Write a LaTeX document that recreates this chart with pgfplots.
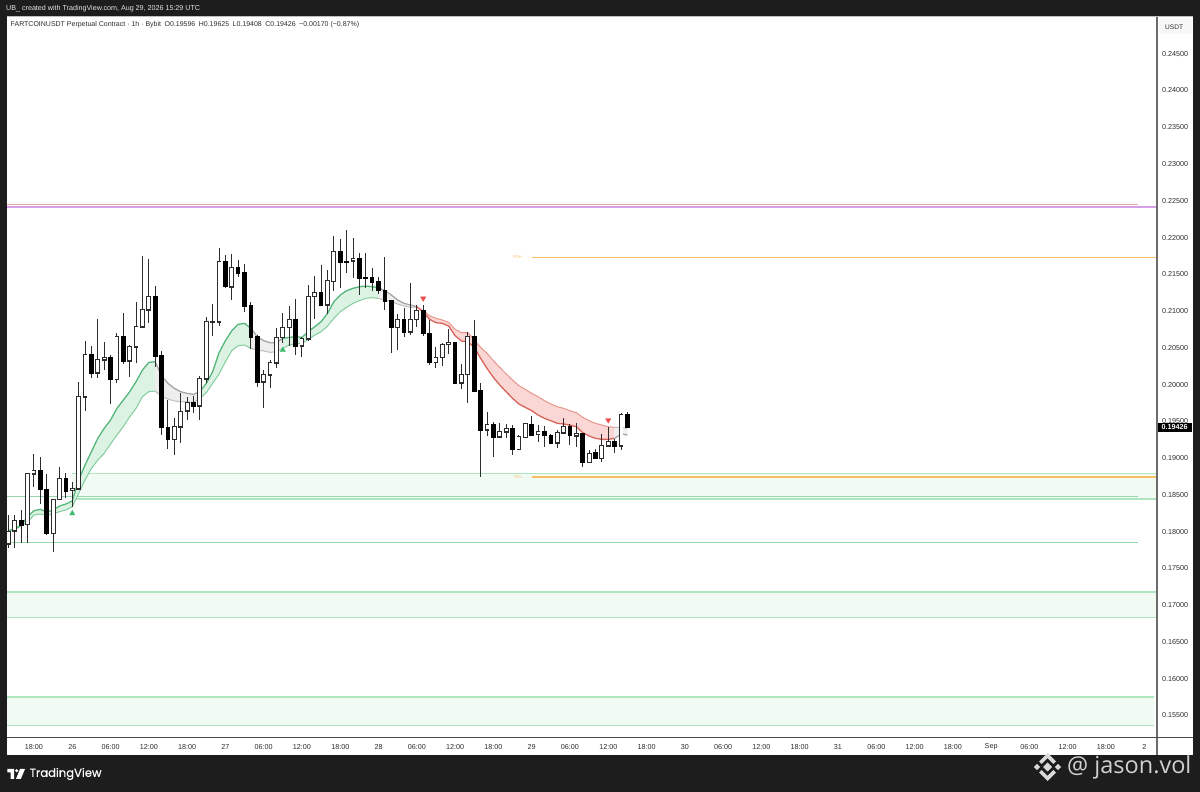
\documentclass[border=0pt]{standalone}
\usepackage{fontspec}
\setmainfont{Liberation Sans}
\newfontfamily\wmfont{Open Sans}
\newfontfamily\tvfont[FakeBold=0.4]{Poppins}
\usepackage{pgfplots}
\usepackage{pgfplotstable}
\pgfplotsset{compat=1.18}

\definecolor{frame}{RGB}{29,29,29}
\definecolor{ink}{RGB}{45,45,45}
\definecolor{zonefill}{RGB}{241,251,244}
\definecolor{zoneline}{RGB}{175,230,192}
\definecolor{levelgreen}{RGB}{150,215,170}
\definecolor{purpleline}{RGB}{214,160,232}
\definecolor{pinkline}{RGB}{228,170,160}
\definecolor{orangeline}{RGB}{250,190,100}
\definecolor{gfast}{RGB}{85,183,122}
\definecolor{gslow}{RGB}{130,205,155}
\definecolor{gfill}{RGB}{220,243,228}
\definecolor{nfast}{RGB}{165,165,165}
\definecolor{nslow}{RGB}{190,190,190}
\definecolor{nfill}{RGB}{238,238,238}
\definecolor{rfast}{RGB}{217,100,90}
\definecolor{rslow}{RGB}{232,150,140}
\definecolor{rfill}{RGB}{250,215,212}
\definecolor{triGreen}{RGB}{60,190,110}
\definecolor{triRed}{RGB}{235,75,70}

% hour 0 = Aug 26 00:00
\pgfplotstableread{
h o hi lo c
-10 0.17832 0.18226 0.17773 0.18000
-9 0.18009 0.18226 0.17773 0.18149
-7 0.18099 0.18802 0.17841 0.18793
-6 0.18784 0.19056 0.18612 0.18829
-3 0.17977 0.18439 0.17719 0.18439
-2 0.18439 0.18874 0.18430 0.18725
0 0.18566 0.18680 0.18330 0.18593
1 0.18584 0.20039 0.18566 0.19845
2 0.19836 0.20597 0.19645 0.20407
4 0.20162 0.20896 0.20085 0.20343
5 0.20339 0.20583 0.20198 0.20370
7 0.20071 0.20706 0.20017 0.20656
9 0.20325 0.20538 0.20098 0.20524
10 0.20515 0.21123 0.20289 0.20796
11 0.20787 0.21748 0.20778 0.21019
12 0.21019 0.21712 0.20833 0.21200
16 0.19255 0.19545 0.19047 0.19427
17 0.19427 0.19890 0.19210 0.19641
18 0.19641 0.19836 0.19518 0.19763
20 0.19709 0.20117 0.19518 0.20080
21 0.20080 0.20923 0.20026 0.20855
22 0.20851 0.21096 0.20660 0.20864
23 0.20855 0.21853 0.20796 0.21680
25 0.21331 0.21771 0.21150 0.21594
30 0.20039 0.20198 0.19686 0.20135
31 0.20135 0.20334 0.19949 0.20298
32 0.20298 0.20765 0.20221 0.20642
33 0.20642 0.20978 0.20561 0.20778
34 0.20778 0.21068 0.20524 0.20887
36 0.20529 0.20651 0.20379 0.20624
37 0.20624 0.21354 0.20597 0.21204
38 0.21200 0.21476 0.20896 0.21254
40 0.21082 0.21558 0.20955 0.21413
41 0.21404 0.22020 0.21277 0.21812
44 0.21680 0.21989 0.21445 0.21721
51 0.20778 0.20960 0.20470 0.20887
53 0.20719 0.21386 0.20674 0.20887
54 0.20887 0.21082 0.20778 0.21005
57 0.20302 0.20515 0.20221 0.20370
58 0.20370 0.20570 0.20252 0.20547
59 0.20547 0.20751 0.20416 0.20574
61 0.20026 0.20280 0.19935 0.20139
62 0.20139 0.20719 0.19754 0.20651
65 0.19382 0.19631 0.19301 0.19464
67 0.19291 0.19473 0.19282 0.19359
68 0.19359 0.19459 0.19269 0.19405
70 0.19119 0.19314 0.19110 0.19291
71 0.19282 0.19482 0.19278 0.19473
73 0.19323 0.19450 0.19223 0.19364
76 0.19210 0.19382 0.19133 0.19346
77 0.19346 0.19541 0.19337 0.19437
79 0.19301 0.19473 0.19155 0.19337
81 0.18942 0.19110 0.18929 0.19065
83 0.18997 0.19328 0.18951 0.19169
84 0.19164 0.19427 0.19155 0.19228
86 0.19164 0.19618 0.19110 0.19595
}\upcandles

\pgfplotstableread{
h o hi lo c
-8 0.18149 0.18294 0.17850 0.18090
-5 0.18829 0.19010 0.18376 0.18575
-4 0.18575 0.18784 0.17954 0.17977
-1 0.18725 0.18802 0.18453 0.18557
3 0.20407 0.20524 0.20085 0.20162
6 0.20366 0.20402 0.19736 0.20071
8 0.20651 0.20978 0.20280 0.20325
13 0.21200 0.21345 0.20243 0.20393
14 0.20393 0.20461 0.19314 0.19418
15 0.19418 0.19790 0.19119 0.19255
19 0.19763 0.19845 0.19609 0.19709
24 0.21680 0.21762 0.21309 0.21340
26 0.21590 0.21694 0.21467 0.21522
27 0.21522 0.21640 0.20991 0.21068
28 0.21073 0.21127 0.20479 0.20651
29 0.20651 0.20674 0.19971 0.20039
35 0.20887 0.21159 0.20402 0.20529
39 0.21254 0.21626 0.21068 0.21082
42 0.21812 0.21975 0.21309 0.21667
43 0.21676 0.22102 0.21522 0.21667
45 0.21721 0.21794 0.21218 0.21445
46 0.21458 0.21785 0.21309 0.21445
47 0.21458 0.21581 0.21277 0.21395
48 0.21404 0.21467 0.21232 0.21286
49 0.21286 0.21730 0.21014 0.21141
50 0.21141 0.21150 0.20434 0.20778
52 0.20887 0.21037 0.20642 0.20719
55 0.21005 0.21082 0.20660 0.20697
56 0.20697 0.20878 0.20266 0.20311
60 0.20574 0.20583 0.20017 0.20026
63 0.20651 0.20878 0.19917 0.19917
64 0.19926 0.20017 0.18748 0.19382
66 0.19464 0.19495 0.19010 0.19291
69 0.19405 0.19450 0.19042 0.19119
72 0.19464 0.19572 0.19310 0.19319
74 0.19359 0.19437 0.19155 0.19310
75 0.19314 0.19328 0.19201 0.19210
78 0.19437 0.19464 0.19178 0.19310
80 0.19337 0.19346 0.18874 0.18942
82 0.19074 0.19119 0.18988 0.18997
85 0.19228 0.19255 0.19065 0.19164
87 0.19596 0.19625 0.19408 0.19426
}\downcandles

\pgfplotstableread{
h fast slow
-10 0.18013 0.18013
-9 0.18040 0.18031
-8 0.18090 0.18077
-7 0.18204 0.18136
-6 0.18285 0.18226
-5 0.18303 0.18240
-4 0.18267 0.18222
-3 0.18294 0.18240
-2 0.18349 0.18272
-1 0.18376 0.18294
0 0.18417 0.18340
1 0.18702 0.18521
2 0.18906 0.18702
3 0.19088 0.18861
4 0.19269 0.18974
5 0.19405 0.19065
6 0.19518 0.19192
7 0.19677 0.19314
8 0.19790 0.19428
9 0.19903 0.19563
10 0.20039 0.19677
11 0.20198 0.19836
12 0.20302 0.19903
13 0.20311 0.19913
14 0.20117 0.19836
15 0.20017 0.19804
16 0.19949 0.19777
17 0.19903 0.19767
18 0.19881 0.19763
19 0.19867 0.19758
20 0.19903 0.19813
21 0.20017 0.19890
22 0.20175 0.20017
23 0.20434 0.20144
24 0.20597 0.20311
25 0.20733 0.20461
26 0.20819 0.20529
27 0.20833 0.20538
28 0.20765 0.20493
29 0.20651 0.20470
30 0.20597 0.20457
31 0.20570 0.20438
32 0.20570 0.20447
33 0.20629 0.20493
34 0.20642 0.20538
35 0.20651 0.20552
36 0.20642 0.20561
37 0.20719 0.20615
38 0.20787 0.20674
39 0.20855 0.20719
40 0.20969 0.20796
41 0.21127 0.20901
42 0.21218 0.20991
43 0.21277 0.21050
44 0.21309 0.21105
45 0.21331 0.21141
46 0.21340 0.21173
47 0.21331 0.21182
48 0.21318 0.21173
49 0.21277 0.21150
50 0.21218 0.21127
51 0.21150 0.21096
52 0.21105 0.21068
53 0.21082 0.21050
54 0.21059 0.21055
55 0.20987 0.21005
56 0.20887 0.20937
57 0.20842 0.20901
58 0.20833 0.20878
59 0.20796 0.20846
60 0.20665 0.20751
61 0.20592 0.20706
62 0.20583 0.20706
63 0.20506 0.20606
64 0.20357 0.20506
65 0.20221 0.20425
66 0.20098 0.20325
67 0.19994 0.20234
68 0.19903 0.20144
69 0.19813 0.20062
70 0.19736 0.19985
71 0.19690 0.19935
72 0.19645 0.19881
73 0.19586 0.19835
74 0.19541 0.19781
75 0.19509 0.19736
76 0.19473 0.19699
77 0.19464 0.19677
78 0.19450 0.19645
79 0.19427 0.19618
80 0.19346 0.19554
81 0.19301 0.19509
82 0.19269 0.19473
83 0.19255 0.19450
84 0.19255 0.19427
85 0.19269 0.19418
86 0.19328 0.19418
87 0.19314 0.19405
}\ema

% from, to, fast line, slow line
\newcommand{\emalines}[4]{
  \addplot[#4, line width=1pt, restrict x to domain=#1:#2] table[x=h, y=slow] {\ema};
  \addplot[#3, line width=1.3pt, restrict x to domain=#1:#2] table[x=h, y=fast] {\ema};
}
\pgfplotsset{
  candle/.style 2 args={draw=none, mark=none, error bars/.cd, y dir=both, y explicit,
    error mark=none, error bar style={draw=#1, solid, line width=#2}},
  zone/.style={draw=none, fill=zonefill},
  ribbon/.style={draw=none, fill=#1},
}

\begin{document}
\begin{tikzpicture}
\fill[frame] (0,0) rectangle (1200pt,792pt);
\fill[white] (6.5pt,37pt) rectangle (1193pt,776pt);

\begin{axis}[
  at={(7pt,54pt)}, anchor=south west,
  scale only axis, width=1150pt, height=722pt,
  xmin=-10.23, xmax=170,
  ymin=0.15194, ymax=0.250127,
  axis line style={draw=none},
  tick style={draw=none},
  major tick length=0pt,
  xtick={-6,0,6,...,168},
  xticklabels={18:00,26,06:00,12:00,18:00,27,06:00,12:00,18:00,28,06:00,12:00,18:00,29,06:00,12:00,18:00,30,06:00,12:00,18:00,31,06:00,12:00,18:00,Sep,06:00,12:00,18:00,2},
  x tick label style={font=\fontsize{7.2}{8}\selectfont, text=ink, anchor=center, yshift=-9pt},
  ytick={0.155,0.16,0.165,0.17,0.175,0.18,0.185,0.19,0.195,0.2,0.205,0.21,0.215,0.22,0.225,0.23,0.235,0.24,0.245},
  scaled y ticks=false,
  yticklabel pos=right,
  y tick label style={font=\fontsize{7.2}{8}\selectfont, text=ink, anchor=west, inner sep=0pt, xshift=5pt,
    /pgf/number format/fixed, /pgf/number format/fixed zerofill, /pgf/number format/precision=5,
    /pgf/number format/assume math mode=true},
]
% demand zones
\addplot[zone] coordinates {(0,0.18797) (170,0.18797) (170,0.18444) (0,0.18444)} --cycle;
\addplot[zoneline, line width=1.1pt] coordinates {(0,0.18797) (170,0.18797)};
\addplot[zoneline, line width=1.1pt] coordinates {(0,0.18444) (170,0.18444)};
\addplot[zone] coordinates {(-10.23,0.17179) (170,0.17179) (170,0.16832) (-10.23,0.16832)} --cycle;
\addplot[zoneline, line width=1.1pt] coordinates {(-10.23,0.17179) (170,0.17179)};
\addplot[zoneline, line width=1.1pt] coordinates {(-10.23,0.16832) (170,0.16832)};
\addplot[zone] coordinates {(-10.23,0.15751) (169.5,0.15751) (169.5,0.15370) (-10.23,0.15370)} --cycle;
\addplot[zoneline, line width=1.1pt] coordinates {(-10.23,0.15751) (169.5,0.15751)};
\addplot[zoneline, line width=1.1pt] coordinates {(-10.23,0.15370) (169.5,0.15370)};
% levels
\addplot[levelgreen, line width=1pt] coordinates {(-10.23,0.18475) (167,0.18475)};
\addplot[levelgreen, line width=1pt] coordinates {(-10.23,0.17850) (167,0.17850)};
\addplot[purpleline, line width=2.4pt] coordinates {(-10.23,0.22418) (170,0.22418)};
\addplot[pinkline, line width=0.9pt] coordinates {(-10.23,0.22449) (167,0.22449)};
\addplot[orangeline, line width=1.3pt] coordinates {(72,0.21728) (170,0.21728)};
\addplot[orangeline, line width=1.3pt] coordinates {(72,0.18743) (170,0.18743)};

% EMA ribbon fills: fast line out, slow line back
\addplot[ribbon=gfill] coordinates {(-10,0.18013) (-9,0.18040) (-8,0.18090) (-7,0.18204) (-6,0.18285) (-5,0.18303) (-4,0.18267) (-3,0.18294) (-2,0.18349) (-1,0.18376) (0,0.18417) (1,0.18702) (2,0.18906) (3,0.19088) (4,0.19269) (5,0.19405) (6,0.19518) (7,0.19677) (8,0.19790) (9,0.19903) (10,0.20039) (11,0.20198) (12,0.20302) (13,0.20311)
  (13,0.19913) (12,0.19903) (11,0.19836) (10,0.19677) (9,0.19563) (8,0.19428) (7,0.19314) (6,0.19192) (5,0.19065) (4,0.18974) (3,0.18861) (2,0.18702) (1,0.18521) (0,0.18340) (-1,0.18294) (-2,0.18272) (-3,0.18240) (-4,0.18222) (-5,0.18240) (-6,0.18226) (-7,0.18136) (-8,0.18077) (-9,0.18031) (-10,0.18013)} --cycle;
\addplot[ribbon=nfill] coordinates {(13,0.20311) (14,0.20117) (15,0.20017) (16,0.19949) (17,0.19903) (18,0.19881) (19,0.19867) (20,0.19903)
  (20,0.19813) (19,0.19758) (18,0.19763) (17,0.19767) (16,0.19777) (15,0.19804) (14,0.19836) (13,0.19913)} --cycle;
\addplot[ribbon=gfill] coordinates {(20,0.19903) (21,0.20017) (22,0.20175) (23,0.20434) (24,0.20597) (25,0.20733) (26,0.20819) (27,0.20833) (28,0.20765)
  (28,0.20493) (27,0.20538) (26,0.20529) (25,0.20461) (24,0.20311) (23,0.20144) (22,0.20017) (21,0.19890) (20,0.19813)} --cycle;
\addplot[ribbon=nfill] coordinates {(28,0.20765) (29,0.20651) (30,0.20597) (31,0.20570) (32,0.20570) (33,0.20629)
  (33,0.20493) (32,0.20447) (31,0.20438) (30,0.20457) (29,0.20470) (28,0.20493)} --cycle;
\addplot[ribbon=gfill] coordinates {(33,0.20629) (34,0.20642) (35,0.20651) (36,0.20642) (37,0.20719) (38,0.20787) (39,0.20855) (40,0.20969) (41,0.21127) (42,0.21218) (43,0.21277) (44,0.21309) (45,0.21331) (46,0.21340) (47,0.21331) (48,0.21318)
  (48,0.21173) (47,0.21182) (46,0.21173) (45,0.21141) (44,0.21105) (43,0.21050) (42,0.20991) (41,0.20901) (40,0.20796) (39,0.20719) (38,0.20674) (37,0.20615) (36,0.20561) (35,0.20552) (34,0.20538) (33,0.20493)} --cycle;
\addplot[ribbon=nfill] coordinates {(48,0.21318) (49,0.21277) (50,0.21218) (51,0.21150) (52,0.21105) (53,0.21082) (54,0.21059)
  (54,0.21055) (53,0.21050) (52,0.21068) (51,0.21096) (50,0.21127) (49,0.21150) (48,0.21173)} --cycle;
\addplot[ribbon=rfill] coordinates {(54,0.21059) (55,0.20987) (56,0.20887) (57,0.20842) (58,0.20833) (59,0.20796) (60,0.20665) (61,0.20592) (62,0.20583) (63,0.20506) (64,0.20357) (65,0.20221) (66,0.20098) (67,0.19994) (68,0.19903) (69,0.19813) (70,0.19736) (71,0.19690) (72,0.19645) (73,0.19586) (74,0.19541) (75,0.19509) (76,0.19473) (77,0.19464) (78,0.19450) (79,0.19427) (80,0.19346) (81,0.19301) (82,0.19269) (83,0.19255) (84,0.19255) (85,0.19269)
  (85,0.19418) (84,0.19427) (83,0.19450) (82,0.19473) (81,0.19509) (80,0.19554) (79,0.19618) (78,0.19645) (77,0.19677) (76,0.19699) (75,0.19736) (74,0.19781) (73,0.19835) (72,0.19881) (71,0.19935) (70,0.19985) (69,0.20062) (68,0.20144) (67,0.20234) (66,0.20325) (65,0.20425) (64,0.20506) (63,0.20606) (62,0.20706) (61,0.20706) (60,0.20751) (59,0.20846) (58,0.20878) (57,0.20901) (56,0.20937) (55,0.21005) (54,0.21055)} --cycle;
\addplot[ribbon=nfill] coordinates {(85,0.19269) (86,0.19328) (87,0.19314) (87,0.19405) (86,0.19418) (85,0.19418)} --cycle;

% EMA ribbon lines
\emalines{-10}{13}{gfast}{gslow}
\emalines{13}{20}{nfast}{nslow}
\emalines{20}{28}{gfast}{gslow}
\emalines{28}{33}{nfast}{nslow}
\emalines{33}{48}{gfast}{gslow}
\emalines{48}{54}{nfast}{nslow}
\emalines{54}{85}{rfast}{rslow}
\emalines{85}{87}{nfast}{nslow}

% wicks
\addplot[candle={ink}{1pt}]
  table[x=h, y=c, y error plus expr=\thisrow{hi}-\thisrow{c}, y error minus expr=\thisrow{c}-\thisrow{lo}] {\upcandles};
\addplot[candle={ink}{1pt}]
  table[x=h, y=c, y error plus expr=\thisrow{hi}-\thisrow{c}, y error minus expr=\thisrow{c}-\thisrow{lo}] {\downcandles};
% down bodies
\addplot[candle={black}{4.6pt}]
  table[x=h, y=c, y error plus expr=\thisrow{o}-\thisrow{c}+0.00004, y error minus expr=0.00004] {\downcandles};
% up bodies: dark box, then white inside it
\addplot[candle={ink}{4.8pt}]
  table[x=h, y=o, y error plus expr=\thisrow{c}-\thisrow{o}+0.00004, y error minus expr=0.00004] {\upcandles};
\addplot[candle={white}{3pt}]
  table[x=h, y expr=\thisrow{o}+0.00009, y error plus expr={max(0,\thisrow{c}-\thisrow{o}-0.00018)}, y error minus expr=0] {\upcandles};

% signals
\addplot[only marks, mark=triangle*, mark size=3pt, triGreen, mark options={draw=none}] coordinates {(0,0.18249) (33,0.20470)};
\addplot[only marks, mark=triangle*, mark size=3pt, triRed, mark options={draw=none, rotate=180}] coordinates {(55,0.21173) (84,0.19518)};

\node[font=\fontsize{4}{4}\selectfont, text=orangeline, anchor=east] at (axis cs:71,0.21728) {PDH};
\node[font=\fontsize{4}{4}\selectfont, text=orangeline, anchor=east] at (axis cs:71,0.18743) {PDL};
\end{axis}

% panel lines
\draw[gray!85!black, line width=1.3pt] (1157pt,37pt) -- (1157pt,776pt);
\draw[black!70, line width=1pt] (6.5pt,54pt) -- (1193pt,54pt);
\draw[gray!50, line width=0.7pt] (6.5pt,776pt) -- (1193pt,776pt);

% last price tag
\node[fill=black, text=white, font=\fontsize{7.2}{8}\selectfont\bfseries, anchor=west, inner sep=0pt,
  minimum width=34pt, minimum height=9.6pt, align=center] at (1157.5pt,364.5pt) {0.19426};

% USDT tab
\fill[black!3, rounded corners=1pt] (1159pt,758pt) rectangle (1192pt,773pt);
\node[font=\fontsize{6.6}{8}\selectfont, text=ink, anchor=west, inner sep=0pt] at (1165pt,765pt) {USDT};

% header texts
\node[font=\fontsize{7.15}{8}\selectfont, text=white!90!black, anchor=west, inner sep=0pt] at (6pt,783.5pt)
  {UB\_ created with TradingView.com, Aug 29, 2026 15:29 UTC};
\node[font=\fontsize{7}{8}\selectfont, text=ink, anchor=west, inner sep=0pt] at (10.5pt,767.5pt)
  {FARTCOINUSDT Perpetual Contract · 1h · Bybit\enspace O0.19596\enspace H0.19625\enspace L0.19408\enspace C0.19426\enspace −0.00170 (−0.87\%)};

% TradingView logo
\fill[white] (7.3pt,23pt) -- (14pt,23pt) -- (14pt,13pt) -- (10.7pt,13pt) -- (10.7pt,19.6pt) -- (7.3pt,19.6pt) -- cycle;
\fill[white] (16.7pt,21.3pt) circle (1.7pt);
\fill[white] (20pt,23pt) -- (25pt,23pt) -- (20.8pt,13pt) -- (16pt,13pt) -- cycle;
\node[font=\tvfont\fontsize{11.6}{14}\selectfont, text=white, anchor=west, inner sep=0pt] at (29.5pt,18pt) {TradingView};

% watermark
\begin{scope}[shift={(1047.5pt,25pt)}, x=1pt, y=1pt, fill=white!85!black]
  \fill (0,4.5) -- (4.5,0) -- (0,-4.5) -- (-4.5,0) -- cycle;
  \fill (-10.5,3.2) -- (-7.3,0) -- (-10.5,-3.2) -- (-13.7,0) -- cycle;
  \fill (10.5,3.2) -- (13.7,0) -- (10.5,-3.2) -- (7.3,0) -- cycle;
  \fill (0,14) -- (8.5,5.5) -- (5.8,3) -- (0,8.8) -- (-5.8,3) -- (-8.5,5.5) -- cycle;
  \fill (0,-14) -- (8.5,-5.5) -- (5.8,-3) -- (0,-8.8) -- (-5.8,-3) -- (-8.5,-5.5) -- cycle;
\end{scope}
\node[font=\wmfont\fontsize{23.5}{24}\selectfont, text=white!82!black, anchor=west, inner sep=0pt] at (1067pt,25pt) {@ jason.vol};
\end{tikzpicture}
\end{document}
